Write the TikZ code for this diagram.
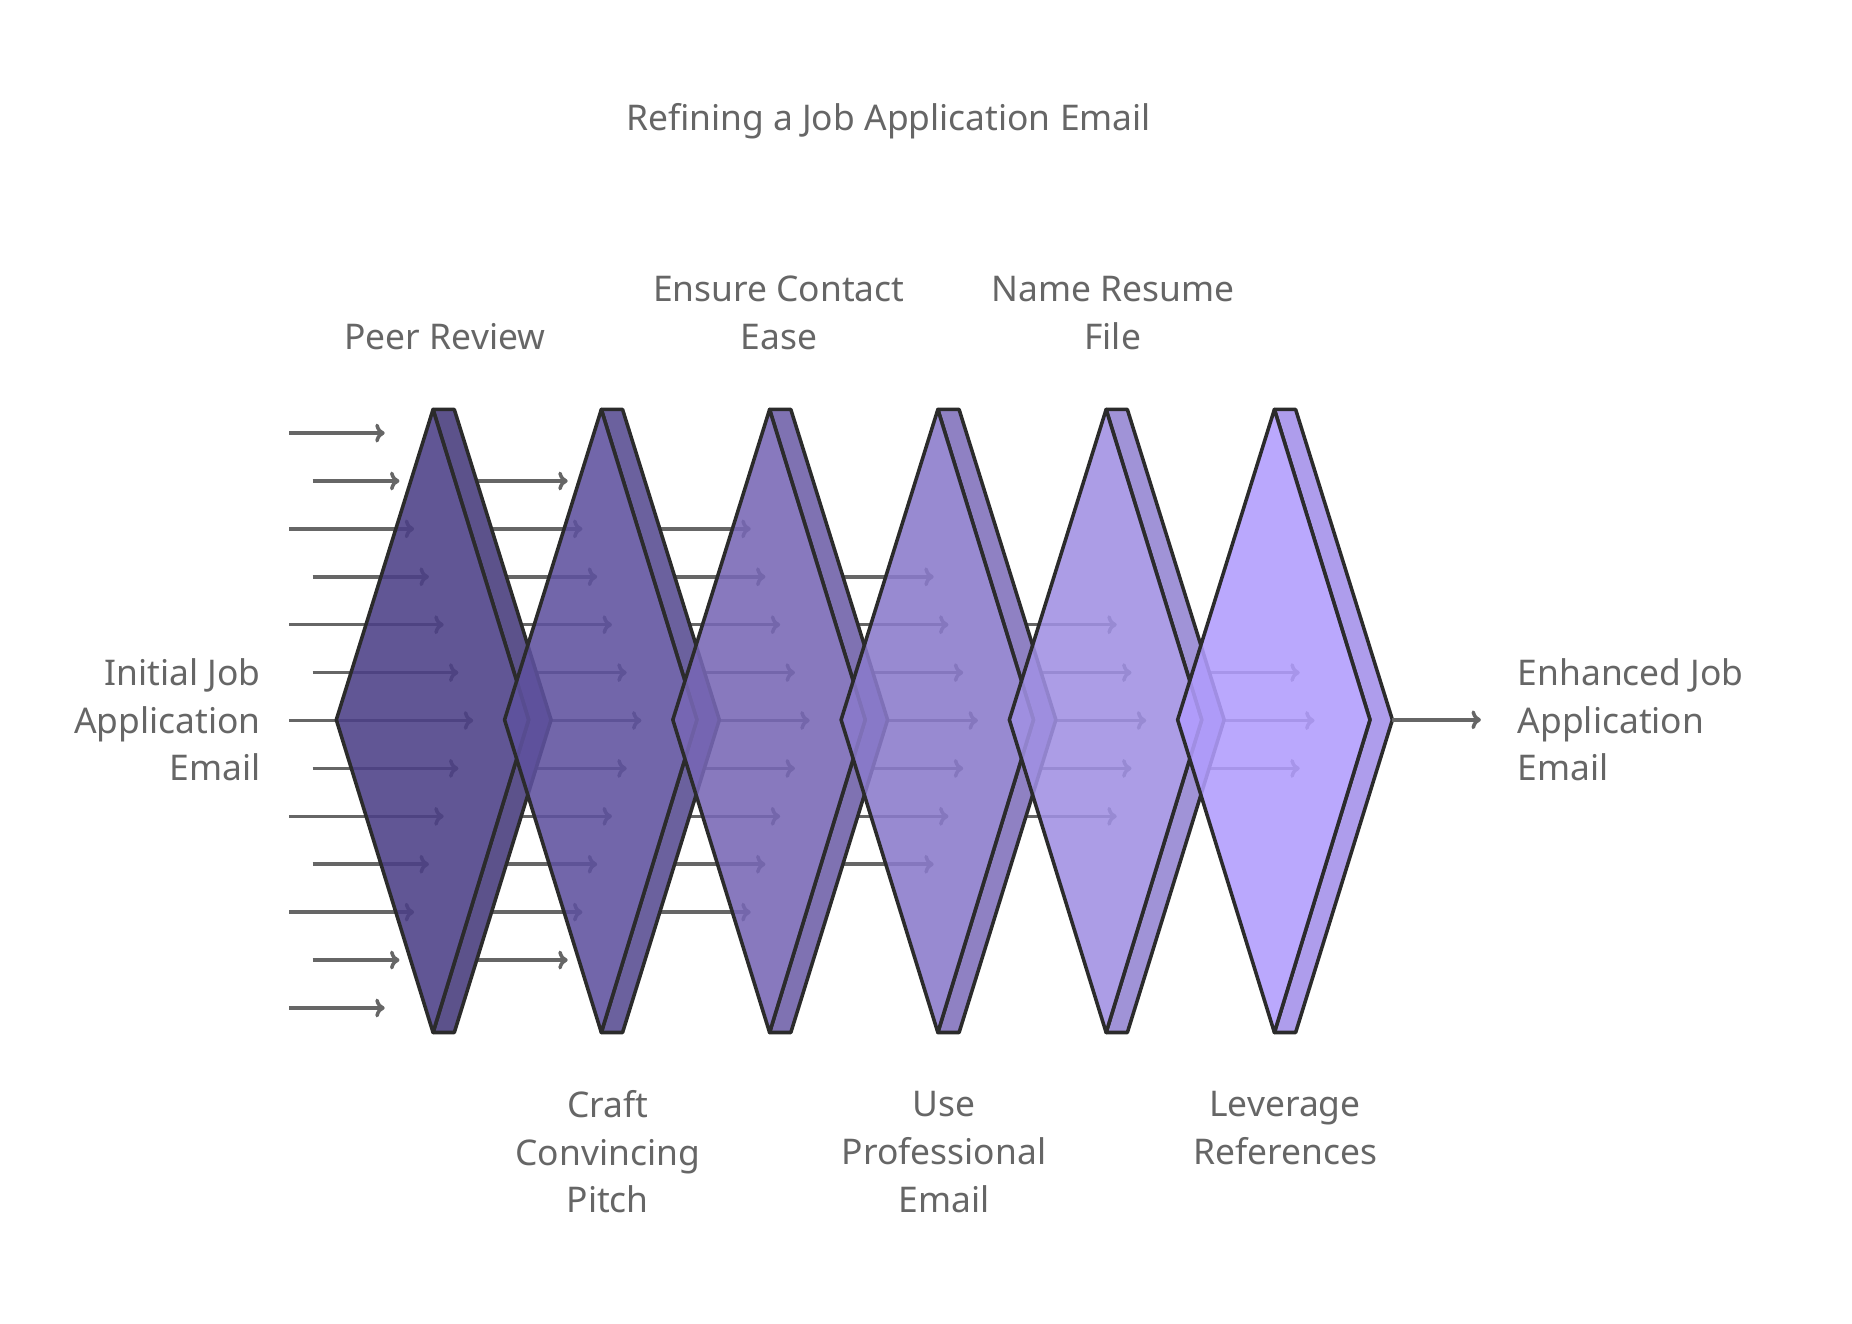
\documentclass[tikz,border=0pt]{standalone}
\usepackage{fontspec}
\setmainfont{Noto Sans}
\usetikzlibrary{arrows.meta}
\definecolor{tx}{HTML}{666666}
\definecolor{ar}{HTML}{666666}
\definecolor{ol}{HTML}{2B2B2B}
\definecolor{c0}{HTML}{4B3F86}
\definecolor{c1}{HTML}{5E519E}
\definecolor{c2}{HTML}{7767B5}
\definecolor{c3}{HTML}{8A7ACB}
\definecolor{c4}{HTML}{A090E3}
\definecolor{c5}{HTML}{B19CFD}
\tikzset{
 lab/.style={text=tx,font=\fontsize{30}{40.6}\selectfont,align=center,inner sep=0pt},
 arr/.style={draw=ar,line width=3pt,-{To[length=8pt,width=16pt,line width=3pt]}},
 face/.style={draw=ol,line width=3pt,line join=round,fill opacity=0.88}
}
\begin{document}
\begin{tikzpicture}[x=1pt,y=-1pt]
\useasboundingbox (0,0) rectangle (1569.5,1122);
% arrows
\foreach \c in {0,...,5}{
 \foreach \k in {0,...,12}{
  \pgfmathtruncatemacro{\d}{abs(\k-6)}
  \pgfmathtruncatemacro{\lim}{6-\c}
  \ifnum\d>\lim\relax\else
   \pgfmathsetmacro{\yy}{367+40.6*\k}
   \pgfmathsetmacro{\xe}{401+142.6*\c-12.5*\d}
   \ifnum\c=0
     \ifodd\k \def\xs{265}\else \def\xs{245}\fi
   \else
     \pgfmathsetmacro{\xs}{467+142.6*(\c-1)-abs(\yy-610)*0.3118}
   \fi
   \coordinate (s\c-\k) at (\xs,\yy);
   \coordinate (e\c-\k) at (\xe,\yy);
   \draw[arr] (s\c-\k) -- (e\c-\k);
  \fi
 }
}
% diamonds
\foreach \c/\col in {0/c0,1/c1,2/c2,3/c3,4/c4,5/c5}{
 \pgfmathsetmacro{\ox}{142.6*\c}
 \begin{scope}[xshift=\ox pt]
  \draw[face,fill=\col!92!black] (367,347) -- (385,347) -- (467,610) -- (385,875) -- (367,875) -- (448,610) -- cycle;
  \draw[face,fill=\col] (367,347) -- (448,610) -- (367,875) -- (285,610) -- cycle;
 \end{scope}
}
\coordinate (fs) at (1180,610);
\coordinate (fe) at (1255,610);
\draw[arr] (fs) -- (fe);
% texts
\node[lab,font=\fontsize{30}{36}\selectfont\bfseries] (title) at (753,103) {Refining a Job Application Email};
\node[lab] (l1) at (377,285) {Peer Review};
\node[lab] (l2) at (660,265) {Ensure Contact\\Ease};
\node[lab] (l3) at (943,265) {Name Resume\\File};
\node[lab] (l4) at (515,976) {Craft\\Convincing\\Pitch};
\node[lab] (l5) at (800,976) {Use\\Professional\\Email};
\node[lab] (l6) at (1089,956) {Leverage\\References};
\node[lab,align=right,anchor=east] (in) at (221,610) {Initial Job\\Application\\Email};
\node[lab,align=left,anchor=west] (out) at (1286,610) {Enhanced Job\\Application\\Email};
\end{tikzpicture}
\end{document}
